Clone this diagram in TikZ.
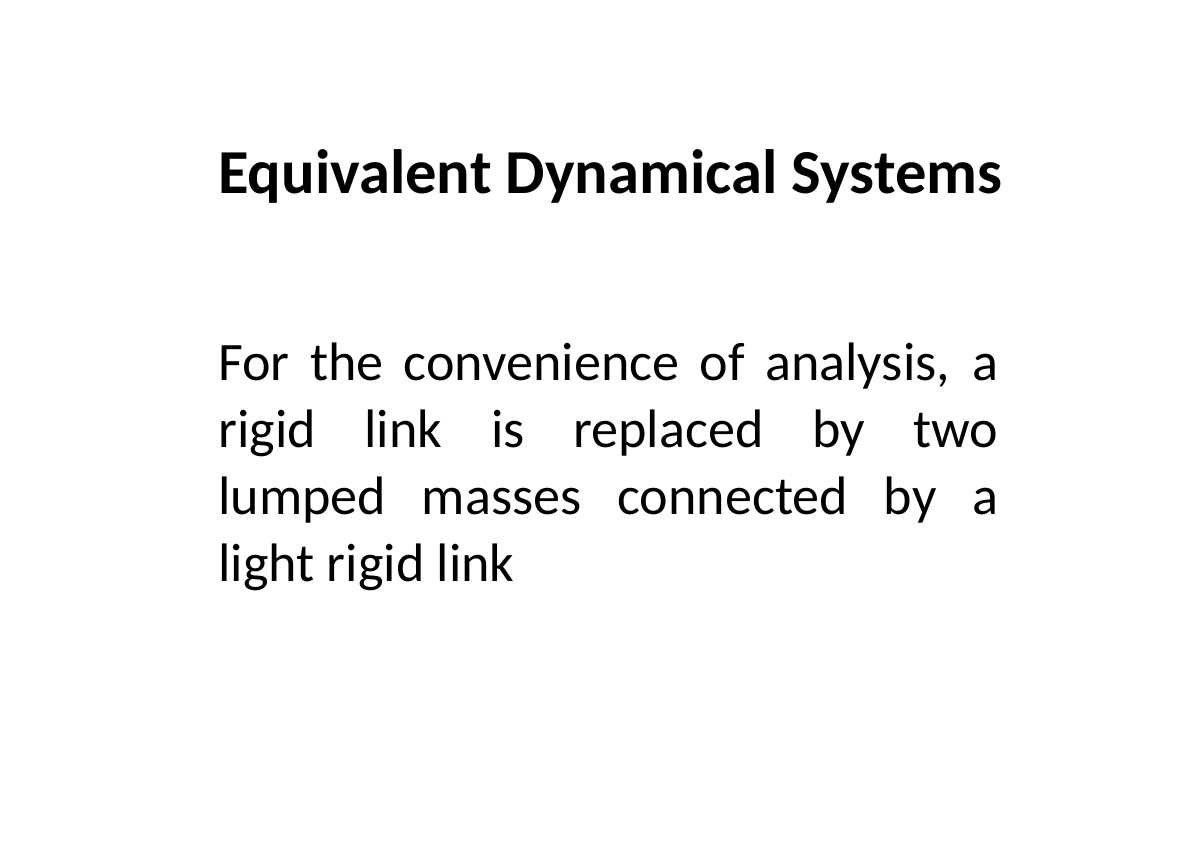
\documentclass[tikz,border=0pt]{standalone}
\usepackage{fontspec}
\setmainfont{Carlito}
\begin{document}
\begin{tikzpicture}[x=0.025cm,y=-0.025cm]
\useasboundingbox[fill=white] (0,0) rectangle (1200,848);
\node[anchor=base west,inner sep=0pt,font=\bfseries\fontsize{44.5}{54}\selectfont] (title) at (218,193) {Equivalent Dynamical Systems};
\node[anchor=base west,inner sep=0pt] (body) at (218,380) {\parbox[t]{19.5cm}{\fontsize{38.5}{47.8}\selectfont For the convenience of analysis, a\linebreak rigid link is replaced by two\linebreak lumped masses connected by a\linebreak light rigid link}};
\end{tikzpicture}
\end{document}
